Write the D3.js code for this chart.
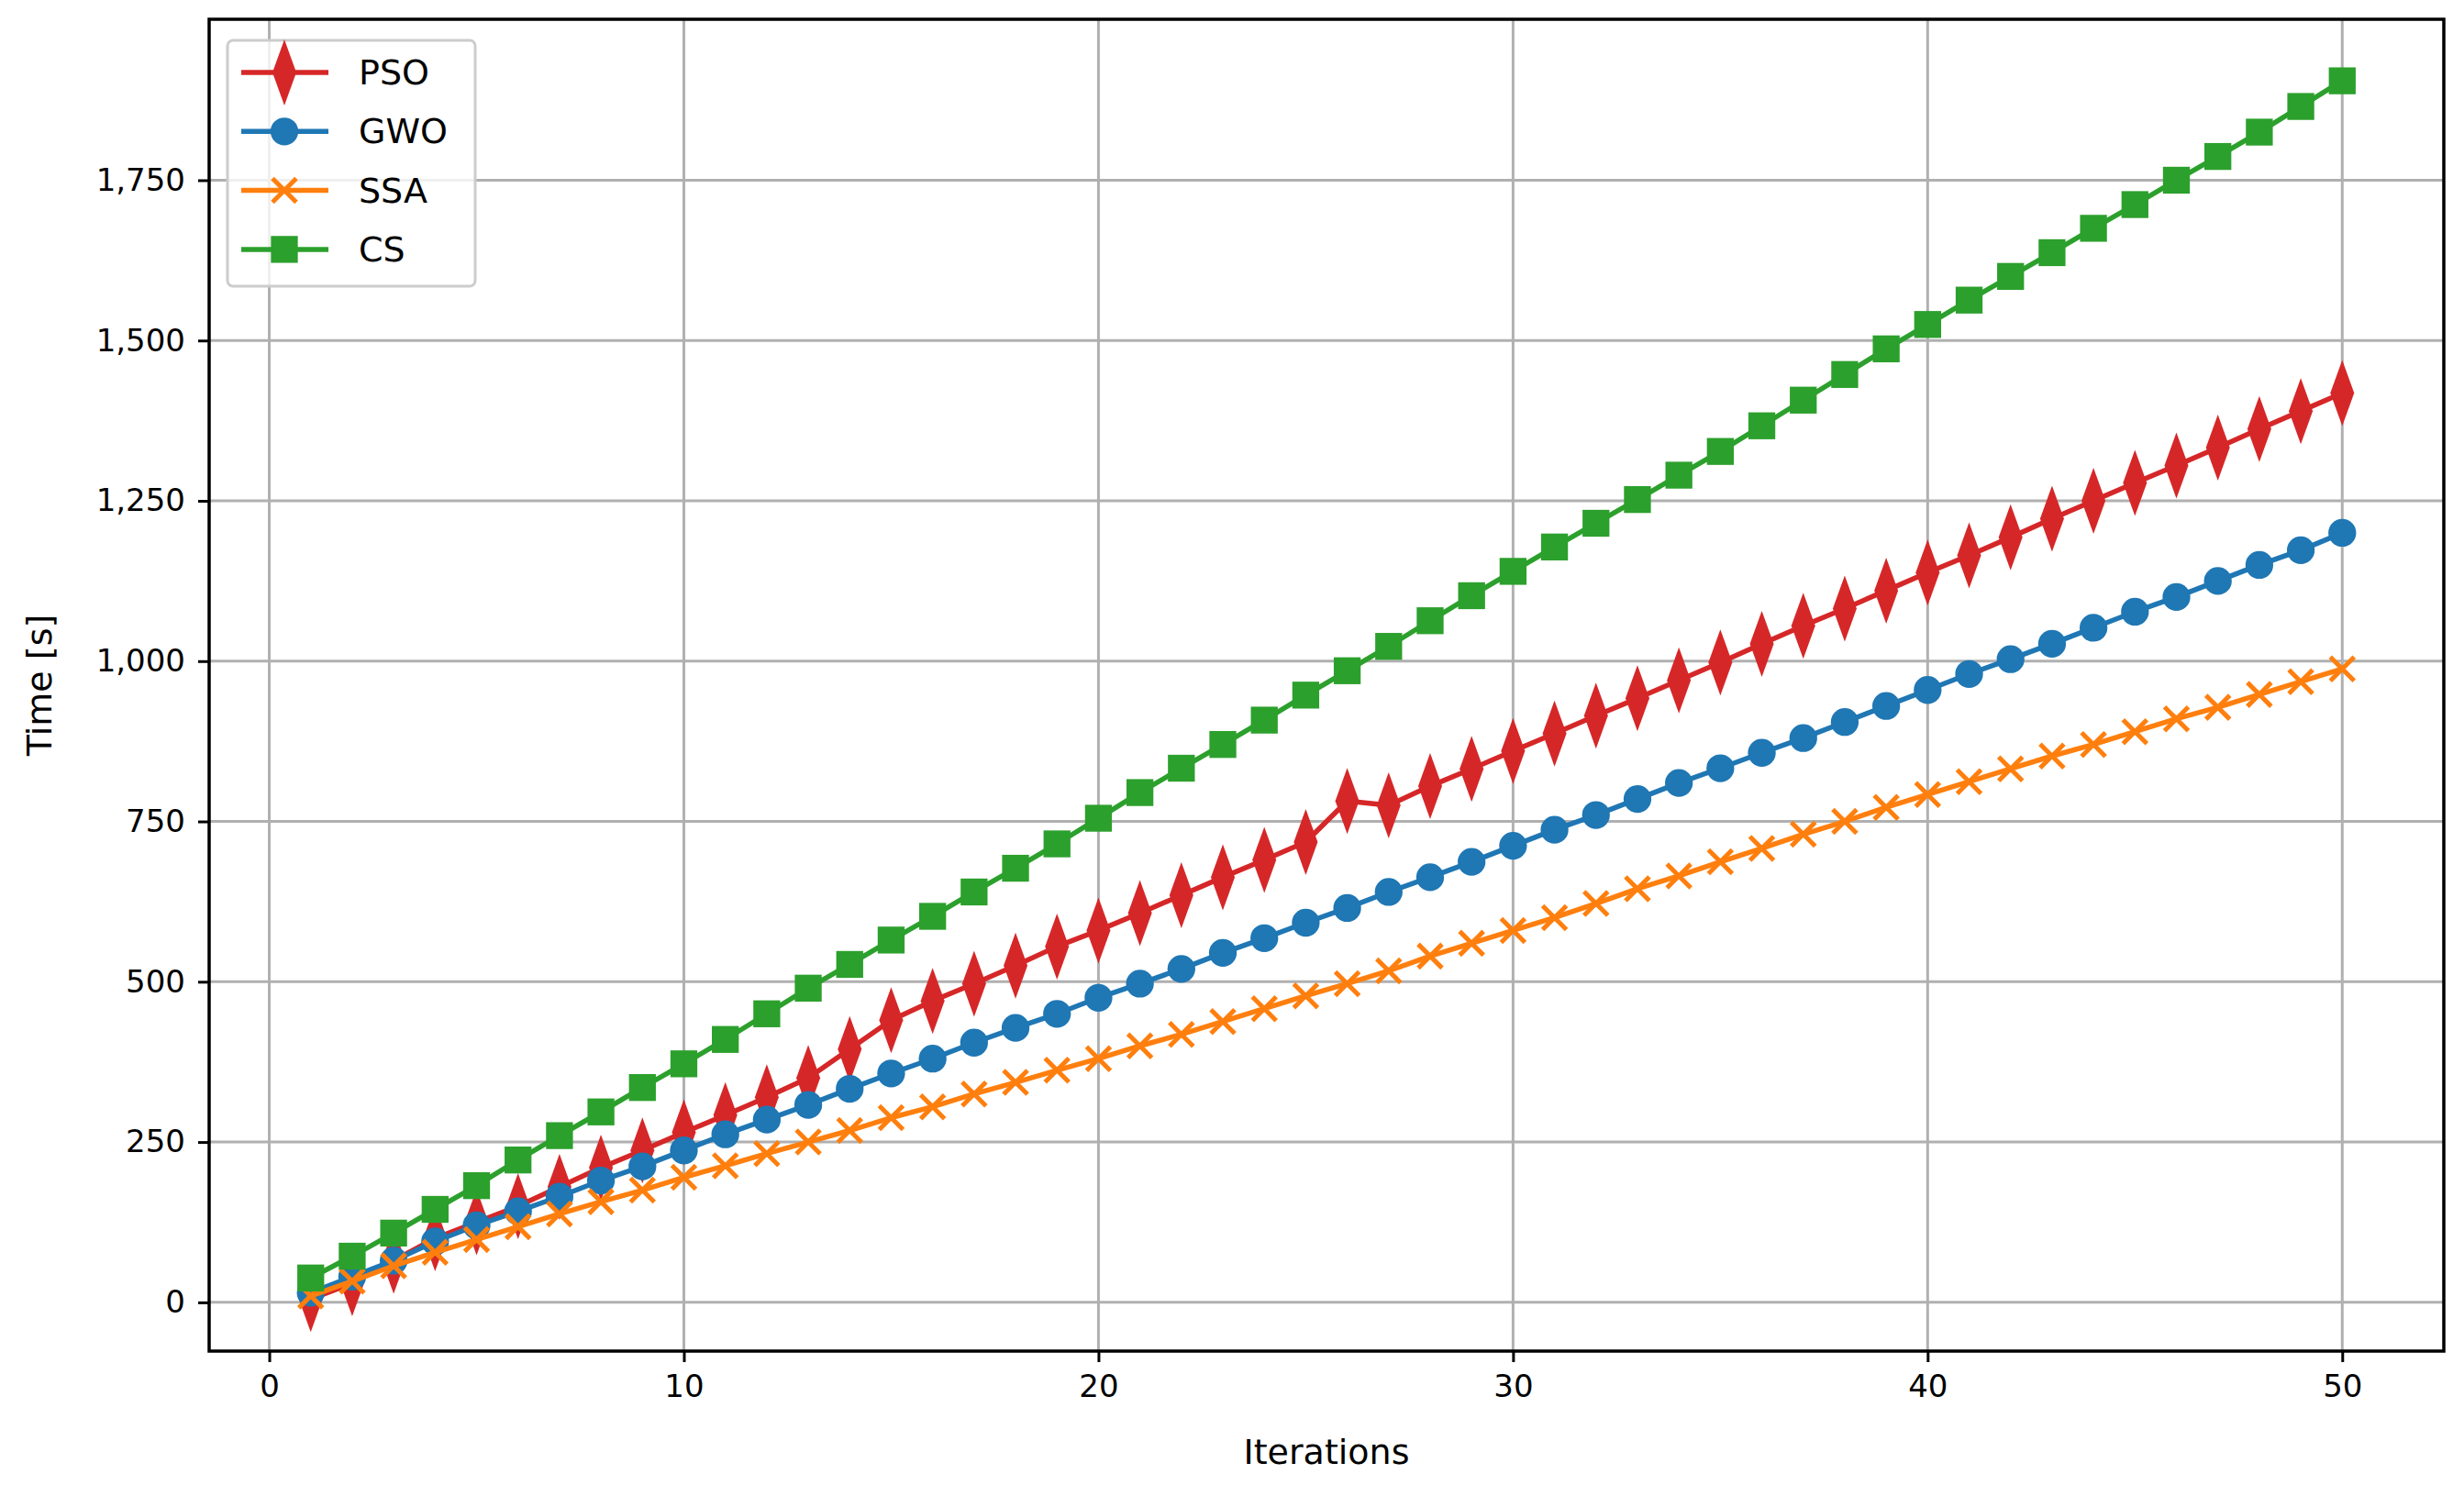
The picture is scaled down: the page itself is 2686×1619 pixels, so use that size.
<!DOCTYPE html>
<html>
<head>
<meta charset="utf-8">
<script src="https://cdn.jsdelivr.net/npm/d3@7"></script>
<style>
  body { margin: 0; background: #fff; }
  text { font-family: "DejaVu Sans", sans-serif; }
</style>
</head>
<body>
<svg id="chart" width="2686" height="1619"></svg>
<script>
const iterations = d3.range(1, 51)

const pso = [5, 30, 65, 100, 125, 150, 180, 210, 237, 265, 292, 320, 350, 395, 440, 470, 497, 525, 555, 580,
  607, 635, 663, 690, 718, 782, 775, 805, 832, 860, 887, 915, 942, 970, 998, 1027, 1055, 1082, 1110, 1138,
  1165, 1193, 1222, 1250, 1278, 1305, 1333, 1362, 1390, 1418]
const gwo = [15, 40, 65, 95, 120, 142, 165, 190, 212, 237, 262, 285, 308, 333, 357, 380, 405, 428, 450, 475,
  497, 520, 545, 568, 592, 615, 640, 663, 687, 712, 737, 760, 785, 810, 833, 857, 880, 905, 930, 955,
  980, 1003, 1027, 1052, 1077, 1100, 1125, 1150, 1173, 1200]
const ssa = [10, 33, 57, 78, 98, 118, 138, 157, 175, 195, 213, 232, 250, 268, 288, 305, 325, 343, 362, 380,
  400, 418, 438, 458, 478, 497, 517, 540, 560, 580, 600, 622, 645, 665, 687, 708, 730, 750, 772, 792,
  812, 832, 852, 870, 890, 910, 928, 948, 968, 988]
const cs = [38, 72, 108, 145, 182, 222, 260, 297, 335, 372, 410, 450, 490, 527, 565, 602, 640, 677, 715, 755,
  795, 833, 870, 908, 947, 985, 1023, 1063, 1102, 1140, 1178, 1215, 1252, 1290, 1327, 1367, 1407, 1447, 1487, 1525,
  1563, 1600, 1637, 1675, 1712, 1750, 1787, 1825, 1865, 1905]

const xTicks = [0, 10, 20, 30, 40, 50]
const yTicks = [0, 250, 500, 750, 1000, 1250, 1500, 1750]

const series = [
  { name: "PSO", values: pso, color: "#d62728", marker: "diamond" },
  { name: "GWO", values: gwo, color: "#1f77b4", marker: "circle" },
  { name: "SSA", values: ssa, color: "#ff7f0e", marker: "x" },
  { name: "CS", values: cs, color: "#2ca02c", marker: "square" }
]

const m = { left: 228, right: 2664, top: 21, bottom: 1473 }
const svg = d3.select("#chart")

const x = d3.scaleLinear().domain([-1.45, 52.45]).range([m.left, m.right])
const y = d3.scaleLinear().domain([-76, 2001]).range([m.bottom, m.top])

// grid
const grid = svg.append("g").attr("stroke", "#b0b0b0").attr("stroke-width", 3)
grid.selectAll(".gx").data(xTicks).join("line")
  .attr("x1", d => x(d)).attr("x2", d => x(d)).attr("y1", m.top).attr("y2", m.bottom)
grid.selectAll(".gy").data(yTicks).join("line")
  .attr("y1", d => y(d)).attr("y2", d => y(d)).attr("x1", m.left).attr("x2", m.right)

// axes
const xAxis = svg.append("g").attr("transform", `translate(0,${m.bottom})`)
  .call(d3.axisBottom(x).tickValues(xTicks).tickSize(12).tickPadding(14))
const yAxis = svg.append("g").attr("transform", `translate(${m.left},0)`)
  .call(d3.axisLeft(y).tickValues(yTicks).tickSize(12).tickPadding(14))
for (const a of [xAxis, yAxis]) {
  a.select(".domain").remove()
  a.selectAll("line").attr("stroke", "#000").attr("stroke-width", 3)
  a.selectAll("text").attr("font-size", 34).attr("fill", "#000")
    .style("font-family", "'DejaVu Sans', sans-serif")
}

const symbol = (type, c) => {
  if (type === "circle") return d3.symbol(d3.symbolCircle, 720)()
  if (type === "square") return d3.symbol(d3.symbolSquare, 860)()
  if (type === "diamond") return "M0,-36L13,0L0,36L-13,0Z"
  return "M-13,-13L13,13M-13,13L13,-13"
}

const line = d3.line().x((d, i) => x(iterations[i])).y(d => y(d))

series.forEach(s => {
  const g = svg.append("g")
  g.append("path").datum(s.values).attr("d", line)
    .attr("fill", "none").attr("stroke", s.color).attr("stroke-width", 5.5)
    .attr("stroke-linejoin", "round")
  g.selectAll("path.mk").data(s.values).join("path").attr("class", "mk")
    .attr("transform", (d, i) => `translate(${x(iterations[i])},${y(d)})`)
    .attr("d", symbol(s.marker))
    .attr("fill", s.marker === "x" ? "none" : s.color)
    .attr("stroke", s.marker === "x" ? s.color : "none")
    .attr("stroke-width", 5)
})

// frame
svg.append("rect").attr("x", m.left).attr("y", m.top)
  .attr("width", m.right - m.left).attr("height", m.bottom - m.top)
  .attr("fill", "none").attr("stroke", "#000").attr("stroke-width", 3.5)

// labels
svg.append("text").attr("x", (m.left + m.right) / 2).attr("y", 1596)
  .attr("text-anchor", "middle").attr("font-size", 38).text("Iterations")
svg.append("text").attr("transform", `translate(56,${(m.top + m.bottom) / 2}) rotate(-90)`)
  .attr("text-anchor", "middle").attr("font-size", 38).text("Time [s]")

// legend
const lg = svg.append("g")
lg.append("rect").attr("x", 248).attr("y", 44).attr("width", 270).attr("height", 268)
  .attr("rx", 6).attr("fill", "#fff").attr("fill-opacity", 0.8)
  .attr("stroke", "#cccccc").attr("stroke-width", 3)
series.forEach((s, i) => {
  const cy = 79 + i * 64.3
  const e = lg.append("g")
  e.append("line").attr("x1", 263).attr("x2", 358).attr("y1", cy).attr("y2", cy)
    .attr("stroke", s.color).attr("stroke-width", 5.5)
  e.append("path").attr("transform", `translate(310,${cy})`).attr("d", symbol(s.marker))
    .attr("fill", s.marker === "x" ? "none" : s.color)
    .attr("stroke", s.marker === "x" ? s.color : "none").attr("stroke-width", 5)
  e.append("text").attr("x", 391).attr("y", cy + 13).attr("font-size", 38).text(s.name)
})
</script>
</body>
</html>
